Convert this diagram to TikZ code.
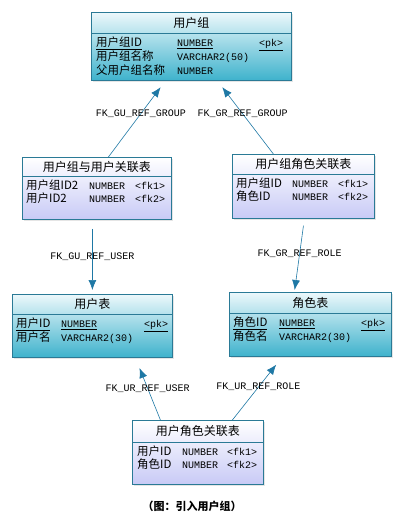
\documentclass[tikz,border=0pt]{standalone}
\usepackage{fontspec}
\usepackage{array}
\setmainfont{Noto Sans CJK SC}
\setmonofont{Liberation Mono}
\usetikzlibrary{arrows.meta,calc,shadows}
\definecolor{tblborder}{RGB}{42,122,150}
\definecolor{fkline}{RGB}{30,120,165}
\definecolor{enthi}{RGB}{236,248,251}
\definecolor{entlo}{RGB}{62,178,204}
\definecolor{lnklo}{RGB}{200,202,246}
\newcommand{\mono}{\ttfamily\fontsize{10}{12.5}\selectfont}
\newcommand{\tbl}[7]{%
  \node[#2, minimum width=#4, minimum height=#5, anchor=north west, inner sep=0pt] (#1) at (#3) {};
  \draw[tblborder, line width=0.8pt] ([yshift=-#6]#1.north west) -- ([yshift=-#6]#1.north east);
  \node[title] (#1-t) at ($(#1.north)!0.5!([yshift=-#6]#1.north)$) {#7};
}

\begin{document}
\begin{tikzpicture}[x=1pt, y=-1pt,
		ent/.style={draw=tblborder, line width=0.8pt, top color=enthi, bottom color=entlo,
			drop shadow={opacity=0.2, shadow xshift=2pt, shadow yshift=-2pt}},
		lnk/.style={draw=tblborder, line width=0.8pt, top color=white, bottom color=lnklo,
			drop shadow={opacity=0.2, shadow xshift=2pt, shadow yshift=-2pt}},
		title/.style={font=\fontsize{12}{14}\selectfont, inner sep=0pt},
		rows/.style={anchor=north west, inner sep=0pt, font=\fontsize{11.5}{12.5}\selectfont},
		fk/.style={draw=fkline, line width=0.6pt, -{Latex[length=10pt,width=8pt]}},
		fklabel/.style={font=\ttfamily\fontsize{10}{12}\selectfont, inner sep=1pt}]
	\path[use as bounding box, fill=white] (0,0) rectangle (400,530);

	% tables
	\tbl{grp}{ent}{91,12}{200pt}{68pt}{21pt}{用户组}
	\tbl{gu}{lnk}{22,157}{149pt}{62pt}{19pt}{用户组与用户关联表}
	\tbl{gr}{lnk}{232,154}{142pt}{64pt}{20pt}{用户组角色关联表}
	\tbl{usr}{ent}{12,294}{160pt}{63pt}{20pt}{用户表}
	\tbl{role}{ent}{229,292}{162pt}{64pt}{21pt}{角色表}
	\tbl{ur}{lnk}{132,420}{131pt}{64pt}{22pt}{用户角色关联表}

	% columns
	\node[rows] (grp-r) at ([xshift=5pt,yshift=-25pt]grp.north west)
		{\begin{tabular}{@{}p{81pt}@{}>{\mono}p{82pt}@{}>{\mono}l@{}}
			\underline{用户组ID} & \underline{NUMBER} & \underline{<pk>}\\
			用户组名称 & VARCHAR2(50) & \\
			父用户组名称 & NUMBER &
		\end{tabular}};
	\node[rows] (gu-r) at ([xshift=4pt,yshift=-22.5pt]gu.north west)
		{\begin{tabular}{@{}p{63pt}@{}>{\mono}p{46pt}@{}>{\mono}l@{}}
			用户组ID2 & NUMBER & <fk1>\\
			用户ID2 & NUMBER & <fk2>
		\end{tabular}};
	\node[rows] (gr-r) at ([xshift=4pt,yshift=-23.5pt]gr.north west)
		{\begin{tabular}{@{}p{56pt}@{}>{\mono}p{46pt}@{}>{\mono}l@{}}
			用户组ID & NUMBER & <fk1>\\
			角色ID & NUMBER & <fk2>
		\end{tabular}};
	\node[rows] (usr-r) at ([xshift=4pt,yshift=-24pt]usr.north west)
		{\begin{tabular}{@{}p{45pt}@{}>{\mono}p{83pt}@{}>{\mono}l@{}}
			\underline{用户ID} & \underline{NUMBER} & \underline{<pk>}\\
			用户名 & VARCHAR2(30) &
		\end{tabular}};
	\node[rows] (role-r) at ([xshift=4pt,yshift=-25pt]role.north west)
		{\begin{tabular}{@{}p{46pt}@{}>{\mono}p{82pt}@{}>{\mono}l@{}}
			\underline{角色ID} & \underline{NUMBER} & \underline{<pk>}\\
			角色名 & VARCHAR2(30) &
		\end{tabular}};
	\node[rows] (ur-r) at ([xshift=5pt,yshift=-25.5pt]ur.north west)
		{\begin{tabular}{@{}p{45pt}@{}>{\mono}p{45pt}@{}>{\mono}l@{}}
			用户ID & NUMBER & <fk1>\\
			角色ID & NUMBER & <fk2>
		\end{tabular}};

	\node[font=\bfseries\fontsize{11}{13}\selectfont] (cap) at (192,506) {（图：引入用户组）};

	% references
	\draw[fk, shorten >=8pt] ([xshift=11.5pt]gu.north) -- node[fklabel, pos=0.57]{FK\_GU\_REF\_GROUP} ([xshift=-26pt]grp.south);
	\draw[fk, shorten >=8pt] ([xshift=-30pt]gr.north) -- node[fklabel, pos=0.55]{FK\_GR\_REF\_GROUP} ([xshift=26pt]grp.south);
	\draw[fk, shorten <=9pt, shorten >=4pt] ([xshift=-4.5pt]gu.south) -- node[fklabel, pos=0.5]{FK\_GU\_REF\_USER} (usr.north);
	\draw[fk, shorten <=7pt, shorten >=2pt] ([xshift=1pt]gr.south) -- node[fklabel, pos=0.47]{FK\_GR\_REF\_ROLE} ([xshift=-16pt]role.north);
	\draw[fk, shorten >=11pt] ([xshift=-37.5pt]ur.north) -- node[fklabel, pos=0.51]{FK\_UR\_REF\_USER} ([xshift=43pt]usr.south);
	\draw[fk, shorten >=10pt] ([xshift=34.5pt]ur.north) -- node[fklabel, pos=0.52]{FK\_UR\_REF\_ROLE} ([xshift=-28pt]role.south);
\end{tikzpicture}
\end{document}
